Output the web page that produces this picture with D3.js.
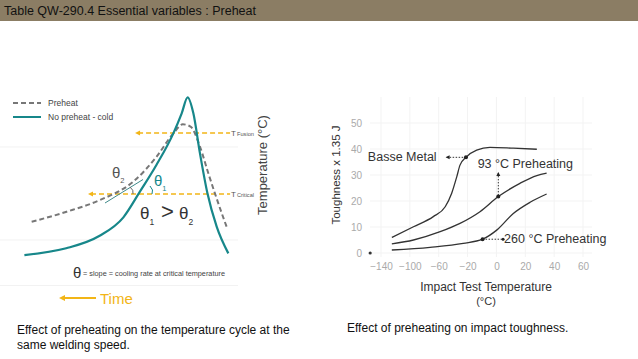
<!DOCTYPE html>
<html><head><meta charset="utf-8">
<script src="https://cdn.jsdelivr.net/npm/d3@7"></script>
<style>body{margin:0;background:#fff}svg{display:block;font-family:"Liberation Sans",Arial,sans-serif}</style>
</head><body><svg id="c" width="638" height="359"></svg>
<script>
// ---------- data ----------
const titleText = "Table QW-290.4 Essential variables : Preheat";
// left chart (time in arbitrary units, temperature in % of range)
const coldTime    = [2, 21, 36, 47, 54.5, 62, 69.7, 73.5, 76.2, 78.8, 81.8, 85.2, 89.4, 94.7];
const coldTemp    = [2.9, 6.9, 14.1, 25.1, 40.2, 55.9, 74.5, 86.3, 95.7, 86.3, 62.7, 39.2, 19.6, 3.9];
const preheatTime = [5.3, 21.2, 36.4, 51.5, 62.1, 69.7, 74, 77.5, 81.8, 85.6, 88.6, 91.7, 93.9];
const preheatTemp = [22.5, 28.4, 35.3, 46.1, 60.8, 74.5, 79.8, 78.5, 66.7, 51, 39.2, 27.5, 19.6];
const levelNames  = ["Fusion", "Critical"];
const levelValues = [74.7, 38.8];
const levelStart  = [52.3, 30.9];
const levelEnd    = 95.5;
const leftGrid    = [66.5, 11.8, -15];
// right chart
const tempTicks  = [-140, -100, -60, -20, 0, 20, 40, 60];
const toughTicks = [0, 10, 20, 30, 40, 50];
const baseTemp   = [-125, -95, -67.5, -51, -42, -35, -30.5, -22.2, -13.7, -4.5, 11.7, 28];
const baseTough  = [6.0, 10.1, 14.0, 17.8, 23.0, 29.3, 33.8, 36.8, 39.6, 40.6, 40.3, 39.9];
const p93Temp    = [-125, -95, -58, -30.5, -11.4, 1.3, 16.3, 28, 34.8];
const p93Tough   = [3.5, 5.0, 8.2, 11.4, 15.9, 21.7, 26.8, 29.8, 30.7];
const p260Temp   = [-125, -72, -26, -9.6, 0.2, 11.7, 23.3, 34.8];
const p260Tough  = [1.15, 2.2, 3.7, 5.3, 8.8, 15.2, 19.5, 22.7];
const originDot  = [-155, 0];

const svg = d3.select("#c");
const teal = "#17878a", yellow = "#f2b517", grey = "#777";

// ---------- title bar ----------
svg.append("rect").attr("x",0).attr("y",0).attr("width",638).attr("height",21).attr("fill","#8b7d64");
svg.append("text").attr("x",4).attr("y",15).attr("font-size",12.5).attr("fill","#111").text(titleText);

// ---------- left chart ----------
const xL = d3.scaleLinear().domain([0,100]).range([20,240]);
const yL = d3.scaleLinear().domain([0,100]).range([260,90]);
const gL = svg.append("g");
gL.selectAll(".lg").data(leftGrid).join("line")
  .attr("x1",0).attr("x2",238).attr("y1",d=>yL(d)).attr("y2",d=>yL(d))
  .attr("stroke","#f2f2f2").attr("stroke-width",1);

const lineL = d3.line().x(d=>xL(d[0])).y(d=>yL(d[1])).curve(d3.curveMonotoneX);
// yellow levels
levelValues.forEach((v,i)=>{
  gL.append("line").attr("x1",xL(levelStart[i])+3).attr("x2",xL(levelEnd))
    .attr("y1",yL(v)).attr("y2",yL(v)).attr("stroke",yellow).attr("stroke-width",1.5)
    .attr("stroke-dasharray","5,3");
  gL.append("path").attr("d",`M${xL(levelStart[i])},${yL(v)} l5,-2.5 l0,5 z`).attr("fill",yellow);
  const t = gL.append("text").attr("x",xL(levelEnd)+1).attr("y",yL(v)+2.5).attr("fill","#555");
  t.append("tspan").attr("font-size",8).text("T");
  t.append("tspan").attr("font-size",6).attr("dx",1).attr("textLength",17).attr("lengthAdjust","spacingAndGlyphs").text(levelNames[i]);
});
gL.append("path").datum(d3.zip(preheatTime,preheatTemp)).attr("d",lineL)
  .attr("fill","none").attr("stroke",grey).attr("stroke-width",2).attr("stroke-dasharray","5,3");
gL.append("path").datum(d3.zip(coldTime,coldTemp)).attr("d",lineL)
  .attr("fill","none").attr("stroke",teal).attr("stroke-width",2.2);

// tangent & angle markers
gL.append("line").attr("x1",105).attr("y1",203).attr("x2",143).attr("y2",179.5)
  .attr("stroke","#3f8a8a").attr("stroke-width",1);
gL.append("path").attr("d","M130,187 Q134,190 133,194").attr("fill","none").attr("stroke","#666").attr("stroke-width",1);
gL.append("path").attr("d","M150,186 Q154,190 152,194").attr("fill","none").attr("stroke",teal).attr("stroke-width",1);
// theta labels
function theta(x,y,sub,size,color){
  const t = gL.append("text").attr("x",x).attr("y",y).attr("fill",color).attr("font-size",size);
  t.append("tspan").text("θ");
  t.append("tspan").attr("font-size",size*0.5).attr("dy",size*0.35).text(sub);
}
theta(112,178,"2",15,"#555");
theta(154,186,"1",15,teal);
theta(140,219,"1",17,"#333");
gL.append("text").attr("x",161).attr("y",219).attr("font-size",22).attr("fill","#333").text(">");
theta(179,219,"2",17,"#333");

// legend
gL.append("line").attr("x1",13).attr("x2",41).attr("y1",103).attr("y2",103)
  .attr("stroke",grey).attr("stroke-width",2).attr("stroke-dasharray","5,3");
gL.append("text").attr("x",48).attr("y",106).attr("font-size",8.5).attr("fill","#444").text("Preheat");
gL.append("line").attr("x1",13).attr("x2",41).attr("y1",117).attr("y2",117)
  .attr("stroke",teal).attr("stroke-width",2);
gL.append("text").attr("x",48).attr("y",120).attr("font-size",8.5).attr("fill","#444").text("No preheat - cold");

// y title
gL.append("text").attr("transform","translate(267,165) rotate(-90)").attr("text-anchor","middle")
  .attr("font-size",13).attr("fill","#444").text("Temperature (°C)");
// formula
gL.append("text").attr("x",73).attr("y",278).attr("font-size",15).attr("fill","#333").text("θ");
gL.append("text").attr("x",83).attr("y",276).attr("font-size",7.5).attr("fill","#444")
  .attr("textLength",142).attr("lengthAdjust","spacingAndGlyphs").text("= slope = cooling rate at critical temperature");
// time arrow
gL.append("line").attr("x1",64).attr("x2",96).attr("y1",298).attr("y2",298).attr("stroke",yellow).attr("stroke-width",2);
gL.append("path").attr("d","M59,298 l6,-3 l0,6 z").attr("fill",yellow);
gL.append("text").attr("x",100).attr("y",304).attr("font-size",15).attr("fill",yellow).text("Time");

// captions
svg.append("text").attr("x",17).attr("y",334).attr("font-size",12).attr("fill","#111")
  .text("Effect of preheating on the temperature cycle at the");
svg.append("text").attr("x",17).attr("y",349).attr("font-size",12).attr("fill","#111")
  .text("same welding speed.");
svg.append("text").attr("x",347).attr("y",332).attr("font-size",12).attr("fill","#111")
  .text("Effect of preheating on impact toughness.");

// ---------- right chart ----------
const xR = d3.scaleLinear().domain(tempTicks).range(tempTicks.map((d,i)=>381 + i*(583-381)/(tempTicks.length-1)));
const yR = d3.scaleLinear().domain([0,50]).range([253,123]);
const gR = svg.append("g");
gR.selectAll(".vg").data(tempTicks).join("line")
  .attr("x1",d=>xR(d)).attr("x2",d=>xR(d)).attr("y1",97).attr("y2",257).attr("stroke","#f3f3f3");
gR.selectAll(".hg").data(toughTicks).join("line")
  .attr("x1",370).attr("x2",592).attr("y1",d=>yR(d)).attr("y2",d=>yR(d)).attr("stroke","#f3f3f3");

const ay = gR.append("g").attr("transform","translate(370,0)")
  .call(d3.axisLeft(yR).tickValues(toughTicks).tickSize(0).tickPadding(8));
const ax = gR.append("g").attr("transform","translate(0,257)")
  .call(d3.axisBottom(xR).tickValues(tempTicks).tickSize(0).tickPadding(6));
[ay,ax].forEach(a=>{
  a.select(".domain").remove();
  a.selectAll("text").attr("font-size",10).attr("fill","#aaa").attr("font-family","Liberation Sans, Arial, sans-serif");
});

const lineR = d3.line().x(d=>xR(d[0])).y(d=>yR(d[1])).curve(d3.curveMonotoneX);
[[baseTemp,baseTough],[p93Temp,p93Tough],[p260Temp,p260Tough]].forEach(([a,b])=>{
  gR.append("path").datum(d3.zip(a,b)).attr("d",lineR)
    .attr("fill","none").attr("stroke","#333").attr("stroke-width",1.3);
});
gR.append("circle").attr("cx",xR(originDot[0])).attr("cy",yR(originDot[1])).attr("r",1.6).attr("fill","#333");

// annotations
function dotted(x1,y1,x2,y2){
  gR.append("line").attr("x1",x1).attr("y1",y1).attr("x2",x2).attr("y2",y2)
    .attr("stroke","#333").attr("stroke-width",1).attr("stroke-dasharray","1.5,1.5");
}
// Basse Metal
{
  const px = xR(-22.2), py = yR(36.8), ex = xR(-49);
  dotted(ex,py,px,py);
  gR.append("circle").attr("cx",px).attr("cy",py).attr("r",2).attr("fill","#222");
  gR.append("path").attr("d",`M${ex-1},${py} l4,-2 l0,4 z`).attr("fill","#222");
  gR.append("text").attr("x",ex-10).attr("y",py+4).attr("text-anchor","end").attr("font-size",12.5).attr("fill","#333").text("Basse Metal");
}
// 93
{
  const px = xR(1.3), py = yR(21.7), ey = yR(30.8);
  dotted(px,ey,px,py);
  gR.append("circle").attr("cx",px).attr("cy",py).attr("r",2).attr("fill","#222");
  gR.append("path").attr("d",`M${px},${ey-1} l-2,4 l4,0 z`).attr("fill","#222");
  gR.append("text").attr("x",xR(-13)).attr("y",yR(34.2)+4).attr("font-size",12.5).attr("fill","#333").text("93 °C Preheating");
}
// 260
{
  const px = xR(-9.6), py = yR(5.3), ex = xR(4.6);
  dotted(px,py,ex,py);
  gR.append("circle").attr("cx",px).attr("cy",py).attr("r",2).attr("fill","#222");
  gR.append("circle").attr("cx",ex).attr("cy",py).attr("r",1.5).attr("fill","#222");
  gR.append("text").attr("x",ex+1).attr("y",py+4).attr("font-size",12.5).attr("fill","#333").text("260 °C Preheating");
}
// axis titles
gR.append("text").attr("transform","translate(340,175) rotate(-90)").attr("text-anchor","middle")
  .attr("font-size",11.5).attr("fill","#333").text("Toughness x 1.35 J");
gR.append("text").attr("x",486).attr("y",291).attr("text-anchor","middle").attr("font-size",12).attr("fill","#333").text("Impact Test Temperature");
gR.append("text").attr("x",486).attr("y",305).attr("text-anchor","middle").attr("font-size",11).attr("fill","#333").text("(°C)");
</script></body></html>
